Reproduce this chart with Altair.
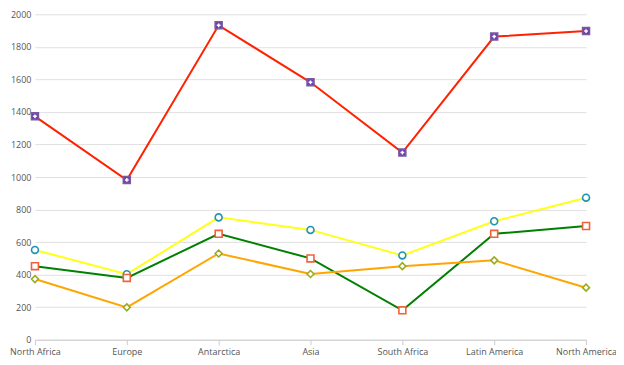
import altair as alt
import pandas as pd

regions = ["North Africa", "Europe", "Antarctica", "Asia", "South Africa", "Latin America", "North America"]
series_names = ["Red", "Yellow", "Green", "Orange"]
red_vals = [1373, 982, 1932, 1582, 1150, 1863, 1897]
yellow_vals = [552, 403, 752, 675, 518, 728, 873]
green_vals = [452, 380, 651, 500, 181, 651, 699]
orange_vals = [373, 199, 530, 404, 452, 488, 320]

line_colors = ["#ff2200", "#ffff1a", "#008000", "#ffa500"]
marker_shapes = ["square", "circle", "square", "diamond"]
marker_strokes = ["#7a5a9a", "#1f95b5", "#f2613a", "#9aab1e"]
marker_fills = ["#6a3fb0", "white", "white", "white"]

rows = []
for name, vals in zip(series_names, [red_vals, yellow_vals, green_vals, orange_vals]):
    for r, v in zip(regions, vals):
        rows.append({"region": r, "value": v, "series": name})
df = pd.DataFrame(rows)

font = "Open Sans"
x_enc = alt.X("region:N", sort=regions, scale=alt.Scale(type="point", padding=0),
              axis=alt.Axis(title=None, labelAngle=0, labelFont=font, labelFontSize=9,
                            labelColor="#555", domainColor="#ccc", tickColor="#ccc",
                            tickSize=5, labelPadding=3, grid=False, labelOverlap=False))
y_enc = alt.Y("value:Q", scale=alt.Scale(domain=[0, 2000], nice=False),
              axis=alt.Axis(title=None, values=list(range(0, 2001, 200)), format="d",
                            labelFont=font, labelFontSize=9, labelColor="#555", domain=False,
                            ticks=False, gridColor="#e0e0e0", labelPadding=4))

base = alt.Chart(df)
lines = base.mark_line(strokeWidth=2).encode(
    x=x_enc, y=y_enc,
    color=alt.Color("series:N", scale=alt.Scale(domain=series_names, range=line_colors), legend=None),
    detail="series:N",
)
points = base.mark_point(size=48, strokeWidth=1.6, opacity=1, filled=False).encode(
    x=x_enc, y=y_enc,
    shape=alt.Shape("series:N", scale=alt.Scale(domain=series_names, range=marker_shapes), legend=None),
    stroke=alt.Stroke("series:N", scale=alt.Scale(domain=series_names, range=marker_strokes), legend=None),
    fill=alt.Fill("series:N", scale=alt.Scale(domain=series_names, range=marker_fills), legend=None),
)
crosses = base.transform_filter(alt.datum.series == "Red").mark_point(
    shape="cross", size=14, filled=True, color="white", opacity=1).encode(x=x_enc, y=y_enc)

chart = alt.layer(lines, points, crosses).properties(
    width=552, height=326,
    autosize=alt.AutoSizeParams(type="none"),
    padding={"left": 27, "top": 6, "right": 30, "bottom": 30},
).configure_view(stroke=None)

chart.save("out.html", embed_options={"renderer": "svg", "actions": False})
